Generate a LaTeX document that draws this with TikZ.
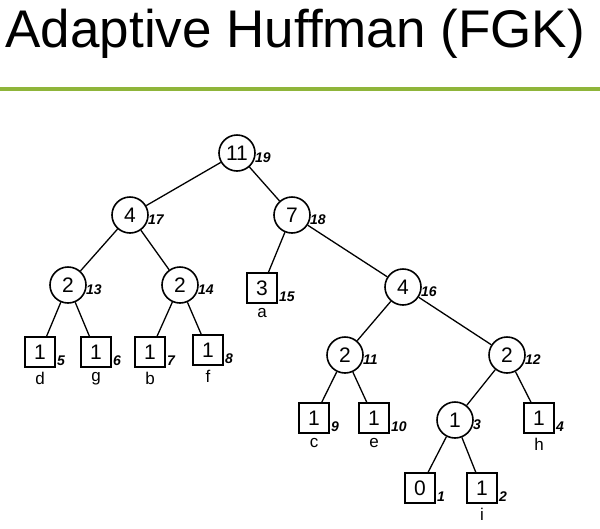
\documentclass[tikz,border=0pt]{standalone}
\usepackage{fontspec}
\setmainfont{Liberation Sans}
\begin{document}
\begin{tikzpicture}[x=1pt,y=-1pt,
  inn/.style={circle,draw,line width=1.6pt,minimum size=36pt,inner sep=0pt,font=\fontsize{21}{21}\selectfont},
  lf/.style={rectangle,draw,line width=1.6pt,minimum size=30pt,inner sep=0pt,font=\fontsize{21}{21}\selectfont},
  num/.style={font=\fontsize{14}{14}\selectfont\itshape\bfseries,anchor=west,inner sep=1pt},
  let/.style={font=\fontsize{17}{17}\selectfont,inner sep=1pt},
  edge/.style={line width=1.3pt}]
\useasboundingbox (0,0) rectangle (600,528);
\node[anchor=west,font=\fontsize{53}{53}\selectfont] (title) at (2,34) {Adaptive Huffman (FGK)};
\fill[yellow!60!green!80!black] (0,87) rectangle (600,91);
\node[inn] (n11) at (237,153) {11};
\node[inn] (n4a) at (130,215) {4};
\node[inn] (n7) at (292,215) {7};
\node[inn] (n2a) at (68,285) {2};
\node[inn] (n2b) at (180,285) {2};
\node[lf] (la) at (262,288) {3};
\node[inn] (n4b) at (403,287) {4};
\node[lf] (ld) at (40,352) {1};
\node[lf] (lg) at (96,352) {1};
\node[lf] (lb) at (150,352) {1};
\node[lf] (lff) at (208,350) {1};
\node[inn] (n2c) at (345,355) {2};
\node[inn] (n2d) at (507,355) {2};
\node[lf] (lc) at (314,418) {1};
\node[lf] (le) at (374,418) {1};
\node[inn] (n1) at (455,420) {1};
\node[lf] (lh) at (539,418) {1};
\node[lf] (l0) at (420,488) {0};
\node[lf] (li) at (482,488) {1};
\foreach \a/\b in {n11/n4a,n11/n7,n4a/n2a,n4a/n2b,n7/la,n7/n4b,n2a/ld,n2a/lg,n2b/lb,n2b/lff,n4b/n2c,n4b/n2d,n2c/lc,n2c/le,n2d/n1,n2d/lh,n1/l0,n1/li}
  \draw[edge] (\a) -- (\b);
\node[num] (t19) at ([xshift=-2pt,yshift=-5pt]n11.east) {19};
\node[num] (t17) at ([xshift=-2pt,yshift=-5pt]n4a.east) {17};
\node[num] (t18) at ([xshift=-2pt,yshift=-5pt]n7.east) {18};
\node[num] (t13) at ([xshift=-2pt,yshift=-5pt]n2a.east) {13};
\node[num] (t14) at ([xshift=-2pt,yshift=-5pt]n2b.east) {14};
\node[num] (t16) at ([xshift=-2pt,yshift=-5pt]n4b.east) {16};
\node[num] (t11) at ([xshift=-2pt,yshift=-5pt]n2c.east) {11};
\node[num] (t12) at ([xshift=-2pt,yshift=-5pt]n2d.east) {12};
\node[num] (t3) at ([xshift=-2pt,yshift=-5pt]n1.east) {3};
\node[num] (t15) at ([yshift=-9pt]la.east) {15};
\node[num] (t5) at ([yshift=-9pt]ld.east) {5};
\node[num] (t6) at ([yshift=-9pt]lg.east) {6};
\node[num] (t7) at ([yshift=-9pt]lb.east) {7};
\node[num] (t8) at ([yshift=-9pt]lff.east) {8};
\node[num] (t9) at ([yshift=-9pt]lc.east) {9};
\node[num] (t10) at ([yshift=-9pt]le.east) {10};
\node[num] (t4) at ([yshift=-9pt]lh.east) {4};
\node[num] (t1) at ([yshift=-9pt]l0.east) {1};
\node[num] (t2) at ([yshift=-9pt]li.east) {2};
\foreach \l/\t in {la/a,ld/d,lg/g,lb/b,lff/f,lc/c,le/e,lh/h,li/i}
  \node[let,anchor=north] (x\t) at ([yshift=-3pt]\l.south) {\t};
\end{tikzpicture}
\end{document}
